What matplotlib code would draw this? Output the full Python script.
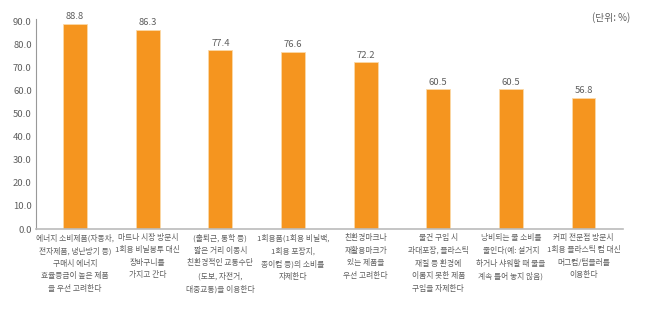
import matplotlib
matplotlib.use("Agg")
import matplotlib.pyplot as plt

plt.rcParams['font.family'] = ['Noto Sans CJK KR', 'DejaVu Sans']

# === 데이터 ===
categories = [
    "에너지 소비제품(자동차,\n전자제품, 냉난방기 등)\n구매시 에너지\n효율등급이 높은 제품\n을 우선 고려한다",
    "마트나 시장 방문시\n1회용 비닐봉투 대신\n장바구니를\n가지고 간다",
    "(출퇴근, 통학 등)\n짧은 거리 이동시\n친환경적인 교통수단\n(도보, 자전거,\n대중교통)을 이용한다",
    "1회용품(1회용 비닐백,\n1회용 포장지,\n종이컵 등)의 소비를\n자제한다",
    "친환경마크나\n재활용마크가\n있는 제품을\n우선 고려한다",
    "물건 구입 시\n과대포장, 플라스틱\n재질 등 환경에\n이롭지 못한 제품\n구입을 자제한다",
    "낭비되는 물 소비를\n줄인다(예: 설거지\n하거나 샤워할 때 물을\n계속 틀어 놓지 않음)",
    "커피 전문점 방문시\n1회용 플라스틱 컵 대신\n머그컵/텀블러를\n이용한다",
]
values = [88.8, 86.3, 77.4, 76.6, 72.2, 60.5, 60.5, 56.8]
yticks = [0, 10, 20, 30, 40, 50, 60, 70, 80, 90]

BAR = "#F5951F"
GREY = "#5f5f5f"

fig = plt.figure(figsize=(6.6, 3.15), dpi=100)
ax = fig.add_axes([0.0545, 0.273, 0.889, 0.667])

x = list(range(len(values)))
ax.bar(x, values, width=0.33, color=BAR, edgecolor="#FBD9A8", linewidth=0.6)

# 값 라벨
for xi, v in zip(x, values):
    ax.text(xi, v + 1.2, f"{v:.1f}", ha="center", va="bottom", fontsize=6.8, color=GREY)

ax.set_xlim(-0.54, 7.54)
ax.set_ylim(0, 91)
ax.set_yticks(yticks)
ax.set_yticklabels([f"{t:.1f}" for t in yticks], fontsize=6.8, color=GREY)
ax.set_xticks(x)
ax.set_xticklabels(categories, fontsize=5.6, color=GREY, linespacing=1.75, va="top")
ax.tick_params(axis="x", length=0, pad=3.5)
ax.tick_params(axis="y", length=0, pad=3)

for s in ["top", "right"]:
    ax.spines[s].set_visible(False)
ax.spines["left"].set_color("#999999")
ax.spines["left"].set_linewidth(0.8)
ax.spines["bottom"].set_color("#bbbbbb")
ax.spines["bottom"].set_linewidth(1.2)

fig.text(0.955, 0.945, "(단위: %)", ha="right", va="center", fontsize=7, color=GREY)

fig.savefig("out.png", dpi=100)
plt.close(fig)
